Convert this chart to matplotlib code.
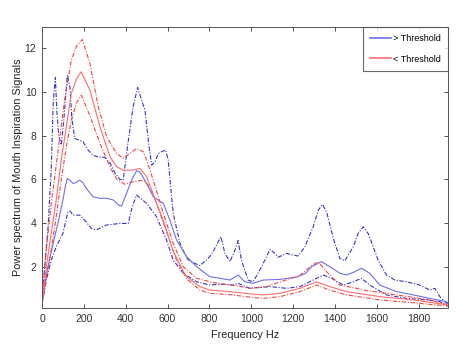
import numpy as np
import matplotlib
matplotlib.use('Agg')
import matplotlib.pyplot as plt
from matplotlib.lines import Line2D

plt.rcParams['font.family'] = ['Liberation Sans', 'DejaVu Sans']

# values (frequency Hz, power)
bu_f = [0, 13, 29, 44, 54, 64, 71, 80, 92, 105, 121, 134, 142, 156, 180, 196, 220, 244, 267, 300, 325, 349, 372, 388,
        410, 435, 457, 476, 492, 510, 524, 540, 556, 571, 591, 603, 627, 659, 691, 707, 755, 794, 818, 842, 855, 874,
        898, 922, 937, 953, 985, 1009, 1041, 1073, 1089, 1113, 1128, 1169, 1200, 1224, 1256, 1296, 1320, 1340, 1360,
        1392, 1423, 1447, 1487, 1511, 1535, 1560, 1606, 1646, 1686, 1742, 1805, 1853, 1877, 1901, 1933, 1940]
bu_v = [0.4, 2.0, 3.83, 6.42, 9.6, 10.66, 9.1, 8.0, 7.57, 8.8, 10.77, 10.2, 8.86, 7.87, 7.79, 7.72, 7.34, 7.1, 7.03, 7.0, 6.74, 6.28, 6.0, 5.96,
        7.6, 9.3, 10.2, 9.62, 9.16, 7.6, 6.65, 6.8, 7.18, 7.26, 7.34, 6.88, 4.44, 3.07, 2.4, 2.25, 2.05, 2.38, 2.69, 3.14, 3.37, 2.61,
        2.23, 2.76, 3.2, 2.3, 1.39, 1.31, 1.85, 2.46, 2.8, 2.61, 2.43, 2.61, 2.53, 2.49, 2.91, 3.83, 4.59, 4.85, 4.5,
        3.3, 2.38, 2.27, 2.91, 3.53, 3.83, 3.5, 2.3, 1.62, 1.39, 1.31, 1.16, 0.93, 1.01, 0.63, 0.33, 0.3]

bm_f = [0, 5, 29, 53, 76, 100, 112, 121, 134, 148, 162, 180, 195, 212, 244, 277, 309, 341, 365, 380, 404, 430, 452, 468, 500, 532, 556,
        580, 611, 643, 691, 739, 802, 850, 898, 937, 969, 1009, 1057, 1137, 1216, 1260, 1288, 1336, 1375, 1423,
        1455, 1490, 1527, 1566, 1614, 1694, 1774, 1853, 1933, 1940]
bm_v = [0.3, 0.78, 2.0, 3.07, 3.98, 5.05, 5.7, 6.04, 5.95, 5.81, 5.85, 5.96, 5.85, 5.58, 5.2, 5.13, 5.13, 5.05, 4.82, 4.78, 5.36, 6.0, 6.39, 6.34, 5.81, 5.2, 5.05,
        4.9, 4.13, 3.22, 2.46, 2.0, 1.54, 1.47, 1.39, 1.62, 1.31, 1.24, 1.39, 1.42, 1.52, 1.7, 2.0, 2.23, 2.0, 1.7,
        1.62, 1.75, 1.93, 1.7, 1.16, 0.86, 0.71, 0.55, 0.4, 0.35]

bl_f = [0, 21, 44, 68, 100, 124, 134, 148, 180, 204, 236, 259, 309, 373, 412, 430, 452, 500, 547, 595, 627, 675, 739,
        802, 850, 914, 937, 993, 1089, 1169, 1232, 1296, 1344, 1384, 1440, 1487, 1527, 1566, 1646, 1742, 1837, 1901, 1940]
bl_v = [0.3, 1.39, 2.3, 2.91, 3.53, 4.51, 4.55, 4.36, 4.36, 4.13, 3.75, 3.68, 3.91, 3.98, 3.98, 4.7, 5.28, 4.9, 4.29, 3.22, 2.3, 1.7, 1.31,
        1.16, 1.2, 1.16, 1.24, 1.01, 1.09, 1.01, 1.09, 1.39, 1.62, 1.47, 1.16, 1.31, 1.47, 1.16, 0.71, 0.55, 0.48, 0.4, 0.2]

ru_f = [0, 13, 29, 44, 61, 85, 108, 140, 165, 193, 229, 269, 309, 357, 388, 420, 452, 484, 500, 520, 540, 580, 627,
        675, 739, 802, 850, 914, 993, 1073, 1152, 1232, 1288, 1320, 1360, 1423, 1503, 1535, 1694, 1853, 1940]
ru_v = [0.3, 2.0, 3.53, 4.9, 6.12, 7.94, 9.62, 11.45, 12.1, 12.4, 11.3, 9.32, 7.94, 7.18, 6.96, 7.18, 7.41, 7.26, 6.88, 6.3, 5.7, 4.44, 3.07,
        2.0, 1.47, 1.31, 1.22, 1.16, 1.01, 1.09, 1.35, 1.6, 2.05, 2.23, 1.77, 1.16, 1.01, 0.93, 0.71, 0.48, 0.25]

rm_f = [0, 21, 44, 68, 92, 116, 140, 165, 187, 229, 277, 325, 357, 388, 436, 468, 500, 532, 580, 627, 675, 691, 755,
        802, 900, 1000, 1057, 1137, 1232, 1312, 1375, 1455, 1614, 1774, 1940]
rm_v = [0.3, 2.0, 3.53, 5.05, 6.88, 8.4, 9.93, 10.6, 10.92, 10.08, 8.4, 7.03, 6.57, 6.42, 6.42, 6.5, 6.12, 5.3, 4.1, 2.7, 1.8, 1.54, 1.09,
        0.93, 0.86, 0.75, 0.71, 0.78, 1.01, 1.31, 1.09, 0.86, 0.63, 0.48, 0.25]

rl_f = [0, 21, 44, 68, 92, 116, 140, 165, 188, 229, 277, 325, 357, 396, 436, 484, 516, 547, 595, 643, 691, 755, 802,
        900, 1000, 1057, 1137, 1232, 1312, 1375, 1455, 1614, 1774, 1940]
rl_v = [0.25, 1.54, 2.76, 4.29, 5.96, 7.49, 8.7, 9.5, 9.85, 8.9, 7.64, 6.57, 6.0, 5.77, 5.89, 5.96, 5.66, 4.9, 3.6, 2.3, 1.45, 0.93, 0.78,
        0.72, 0.6, 0.55, 0.63, 0.86, 1.16, 0.93, 0.71, 0.48, 0.35, 0.2]

xticks = [0, 200, 400, 600, 800, 1000, 1200, 1400, 1600, 1800]
yticks = [2, 4, 6, 8, 10, 12]

blue_solid = '#7070f0'
blue_dash = '#3535c8'
red_solid = '#ff6e6e'
red_dash = '#ee4a40'
dd = (0, (4, 1.5, 1, 1.5))

fig = plt.figure(figsize=(4.74, 3.48), dpi=100)
ax = fig.add_axes([42/474, 40/348, 406/474, 281/348])

ax.plot(bu_f, bu_v, color=blue_dash, lw=0.8, ls=dd)
ax.plot(bl_f, bl_v, color=blue_dash, lw=0.8, ls=dd)
ax.plot(bm_f, bm_v, color=blue_solid, lw=0.8)
ax.plot(ru_f, ru_v, color=red_dash, lw=0.8, ls=dd)
ax.plot(rl_f, rl_v, color=red_dash, lw=0.8, ls=dd)
ax.plot(rm_f, rm_v, color=red_solid, lw=0.8)

ax.set_xlim(0, 1940)
ax.set_ylim(0.11, 12.97)
ax.set_xticks(xticks)
ax.set_yticks(yticks)
ax.tick_params(direction='in', top=True, right=True, labelsize=7.5, colors='#333333', length=3, width=0.6, pad=4)
for s in ax.spines.values():
    s.set_color('#555555')
    s.set_linewidth(0.7)

ax.set_xlabel('Frequency Hz', fontsize=7.8, color='#222222', labelpad=5)
ax.set_ylabel('Power spectrum of Mouth Inspiration Signals', fontsize=7.8, color='#222222', labelpad=1)

handles = [Line2D([], [], color=blue_solid, lw=1.2), Line2D([], [], color=red_solid, lw=1.2)]
leg = ax.legend(handles, ['> Threshold', '< Threshold'], loc='upper right', fontsize=6.5,
                frameon=True, fancybox=False, borderaxespad=0, handlelength=2.3, handletextpad=0.2,
                labelspacing=1.25, borderpad=0.8)
leg.get_frame().set_edgecolor('#444444')
leg.get_frame().set_linewidth(0.8)

fig.savefig('out.png', dpi=100)
